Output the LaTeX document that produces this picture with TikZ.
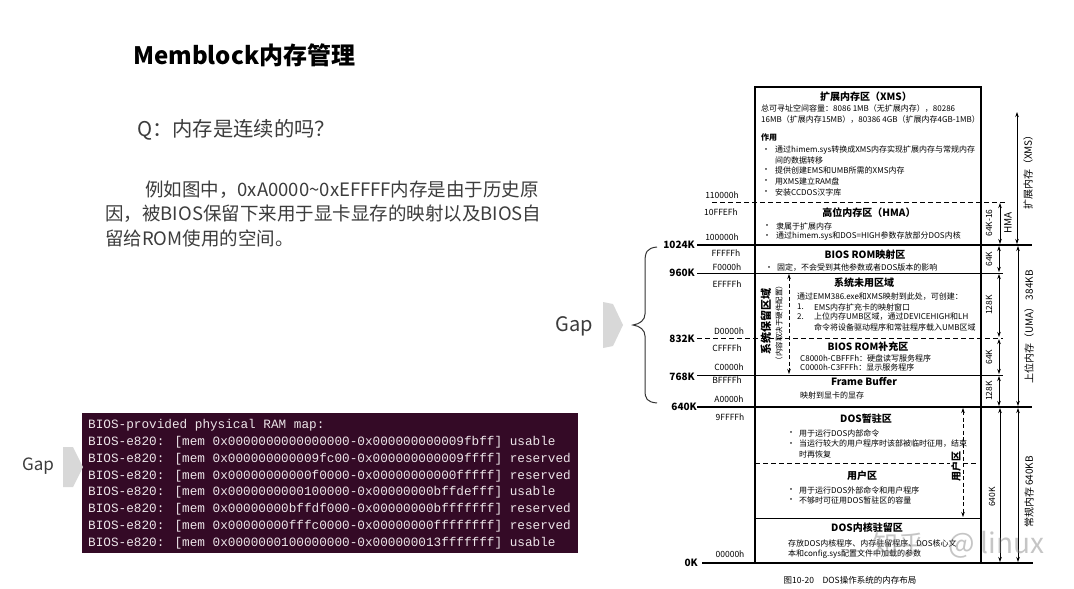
\documentclass[tikz,border=0pt]{standalone}
\usepackage{fontspec}
\setmainfont{Noto Sans CJK SC}
\newfontfamily\monof{Liberation Mono}
\usetikzlibrary{arrows.meta}
\definecolor{termbg}{RGB}{52,10,38}
\definecolor{termfg}{RGB}{236,228,232}
\definecolor{gapgray}{RGB}{216,216,216}
\definecolor{txtgray}{RGB}{60,60,60}
\tikzset{
  para/.style={anchor=west, inner sep=0, font=\fontsize{18.5}{20}\selectfont, text=txtgray},
  term/.style={anchor=west, inner sep=0, font=\monof\fontsize{12.7}{14}\selectfont, text=termfg},
  klbl/.style={anchor=east, inner sep=0, font=\fontsize{10}{12}\selectfont\bfseries},
  hexl/.style={inner sep=0, font=\fontsize{8.5}{10}\selectfont},
  ttl/.style={inner sep=0, font=\fontsize{10}{12}\selectfont\bfseries},
  txt/.style={anchor=west, inner sep=0, font=\fontsize{8}{10}\selectfont},
  dimlbl/.style={rotate=90, inner sep=0, font=\fontsize{8.5}{10}\selectfont},
  dimbig/.style={rotate=90, inner sep=0, font=\fontsize{10}{12}\selectfont},
  thinln/.style={line width=0.9pt},
  thickln/.style={line width=2.4pt},
  boxln/.style={line width=1.6pt},
  dashln/.style={line width=0.9pt, dash pattern=on 5pt off 3pt},
  dimarr/.style={line width=0.8pt, {Stealth[length=5pt,width=3.5pt]}-{Stealth[length=5pt,width=3.5pt]}},
  gaptxt/.style={inner sep=0, text=txtgray},
  wmark/.style={anchor=west, inner sep=0, text=gray, opacity=0.45},
}
\begin{document}
\begin{tikzpicture}[x=1pt,y=-1pt]
\useasboundingbox (0,0) rectangle (1074,589);
\fill[white] (0,0) rectangle (1074,589);

% ---- left text ----
\node[anchor=west, inner sep=0, font=\fontsize{24}{27}\selectfont\bfseries] (title) at (133,55) {Memblock内存管理};
\node[anchor=west, inner sep=0, font=\fontsize{20.3}{24}\selectfont, text=txtgray] (q) at (137,130) {Q：内存是连续的吗？};
\node[para] (p1) at (145,190) {例如图中，0xA0000\textasciitilde0xEFFFF内存是由于历史原};
\node[para] (p2) at (105,214) {因，被BIOS保留下来用于显卡显存的映射以及BIOS自};
\node[para] (p3) at (105,238) {留给ROM使用的空间。};

% ---- terminal ----
\fill[termbg] (82,413) rectangle (578,553);
\node[term] (t0) at (88,425) {BIOS-provided physical RAM map:};
\node[term] (t1) at (88,442) {BIOS-e820: [mem 0x0000000000000000-0x000000000009fbff] usable};
\node[term] (t2) at (88,459) {BIOS-e820: [mem 0x000000000009fc00-0x000000000009ffff] reserved};
\node[term] (t3) at (88,476) {BIOS-e820: [mem 0x00000000000f0000-0x00000000000fffff] reserved};
\node[term] (t4) at (88,492) {BIOS-e820: [mem 0x0000000000100000-0x00000000bffdefff] usable};
\node[term] (t5) at (88,509) {BIOS-e820: [mem 0x00000000bffdf000-0x00000000bfffffff] reserved};
\node[term] (t6) at (88,526) {BIOS-e820: [mem 0x00000000fffc0000-0x00000000ffffffff] reserved};
\node[term] (t7) at (88,543) {BIOS-e820: [mem 0x0000000100000000-0x000000013fffffff] usable};

% ---- Gap markers ----
\node[gaptxt, font=\fontsize{17}{20}\selectfont] (gap2) at (38,466) {Gap};
\fill[gapgray] (63,447) -- (73,447) -- (83,467) -- (73,487) -- (63,487) -- cycle;
\node[gaptxt, font=\fontsize{20}{24}\selectfont] (gap1) at (574,326) {Gap};
\fill[gapgray] (603,302) -- (613,304) -- (623,325) -- (613,346) -- (603,348) -- cycle;
\draw[line width=1pt, black!80] (657,247) .. controls (647,248) and (645,252) .. (645,262)
  -- (645,314) .. controls (645,320) and (640,324) .. (633,325)
  .. controls (640,326) and (645,330) .. (645,336)
  -- (645,390) .. controls (645,399) and (647,402) .. (657,403);

% ---- memory map horizontal lines ----
\draw[dashln] (712,202) -- (1007,202);
\draw[thinln] (697,273) -- (1003,273);
\draw[dashln] (697,338) -- (1003,338);
\draw[thinln] (697,375) -- (1003,375);
\draw[dashln] (755,463) -- (978,463);
\draw[thinln] (755,518) -- (981,518);
% box
\draw[boxln] (755,563) -- (755,87) -- (981,87) -- (981,563);
\draw[thickln] (697,245) -- (1032,245);
\draw[thickln] (697,407) -- (1032,407);
\draw[thickln] (702,563) -- (1033,563);

% ---- K labels ----
\node[klbl] (k1024) at (695,245) {1024K};
\node[klbl] (k960) at (695,273) {960K};
\node[klbl] (k832) at (695,339) {832K};
\node[klbl] (k768) at (695,377) {768K};
\node[klbl] (k640) at (697,407) {640K};
\node[klbl] (k0) at (698,563) {0K};

% ---- hex labels ----
\node[hexl] (h110) at (722,195) {110000h};
\node[hexl] (h10f) at (721,212) {10FFEFh};
\node[hexl] (h100) at (722,237) {100000h};
\node[hexl] (hfff) at (726,253) {FFFFFh};
\node[hexl] (hf00) at (727,267) {F0000h};
\node[hexl] (heff) at (727,284) {EFFFFh};
\node[hexl] (hd00) at (729,331) {D0000h};
\node[hexl] (hcff) at (727,348) {CFFFFh};
\node[hexl] (hc00) at (729,367) {C0000h};
\node[hexl] (hbff) at (727,380) {BFFFFh};
\node[hexl] (ha00) at (729,399) {A0000h};
\node[hexl] (h9ff) at (730,417) {9FFFFh};
\node[hexl] (h000) at (730,554) {00000h};

% ---- XMS ----
\node[ttl] (xms) at (866,97) {扩展内存区（XMS）};
\node[txt] (x1) at (761,109) {总可寻址空间容量：8086 1MB（无扩展内存），80286};
\node[txt] (x2) at (761,120) {16MB（扩展内存15MB），80386 4GB（扩展内存4GB-1MB）};
\node[txt, font=\fontsize{8}{10}\selectfont\bfseries] (x3) at (761,137) {作用};
\node[txt] (xb1) at (762,151) {•}; \node[txt] (x4) at (775,150) {通过himem.sys转换成XMS内存实现扩展内存与常规内存};
\node[txt] (x5) at (775,160) {间的数据转移};
\node[txt] (xb2) at (762,171) {•}; \node[txt] (x6) at (775,170) {提供创建EMS和UMB所需的XMS内存};
\node[txt] (xb3) at (762,182) {•}; \node[txt] (x7) at (775,181) {用XMS建立RAM盘};
\node[txt] (xb4) at (762,193) {•}; \node[txt] (x8) at (775,192) {安装CCDOS汉字库};

% ---- HMA ----
\node[ttl] (hma) at (869,213) {高位内存区（HMA）};
\node[txt] (hb1) at (763,227) {•}; \node[txt] (h1) at (776,226) {隶属于扩展内存};
\node[txt] (hb2) at (763,237) {•}; \node[txt] (h2) at (776,236) {通过himem.sys和DOS=HIGH参数存放部分DOS内核};

% ---- BIOS ROM ----
\node[ttl] (brom) at (865,255) {BIOS ROM映射区};
\node[txt] (bb1) at (765,269) {•}; \node[txt] (b1) at (777,268) {固定，不会受到其他参数或者DOS版本的影响};

% ---- unused ----
\node[ttl] (unused) at (864,283) {系统未用区域};
\node[txt] (u1) at (797,297) {通过EMM386.exe和XMS映射到此处，可创建：};
\node[txt] (u2n) at (797,307) {1.}; \node[txt] (u2) at (814,307) {EMS内存扩充卡的映射窗口};
\node[txt] (u3n) at (797,317) {2.}; \node[txt] (u3) at (814,317) {上位内存UMB区域，通过DEVICEHIGH和LH};
\node[txt] (u4) at (814,327) {命令将设备驱动程序和常驻程序载入UMB区域};

% ---- BIOS ROM ext ----
\node[ttl] (bext) at (868,347) {BIOS ROM补充区};
\node[txt] (e1) at (800,358) {C8000h-CBFFFh：硬盘读写服务程序};
\node[txt] (e2) at (800,367) {C0000h-C3FFFh：显示服务程序};

% ---- Frame buffer ----
\node[ttl] (fb) at (864,382) {Frame Buffer};
\node[txt] (f1) at (800,395) {映射到显卡的显存};

% reserved arrow
\draw[dimarr, dash pattern=on 4pt off 2.5pt] (789,274) -- (789,374);
\node[rotate=90, inner sep=0, font=\fontsize{11}{12}\selectfont\bfseries] (sysres) at (766,321) {系统保留区域};
\node[rotate=90, inner sep=0, font=\fontsize{7.5}{9}\selectfont] (sysres2) at (779,323) {（内容取决于硬件配置）};

% ---- DOS transient ----
\node[ttl] (dtr) at (866,419) {DOS暂驻区};
\node[txt] (db1) at (787,434) {•}; \node[txt] (d1) at (799,433) {用于运行DOS内部命令};
\node[txt] (db2) at (787,445) {•}; \node[txt] (d2) at (799,444) {当运行较大的用户程序时该部被临时征用，结束};
\node[txt] (d3) at (799,454) {时再恢复};

% ---- user ----
\node[ttl] (usr) at (862,476) {用户区};
\node[txt] (ub1) at (787,491) {•}; \node[txt] (us1) at (799,490) {用于运行DOS外部命令和用户程序};
\node[txt] (ub2) at (787,501) {•}; \node[txt] (us2) at (799,500) {不够时可征用DOS暂驻区的容量};
\draw[dimarr, dash pattern=on 4pt off 2.5pt] (963,408) -- (963,517);
\node[rotate=90, inner sep=1pt, fill=white, font=\fontsize{10}{12}\selectfont\bfseries] (usrv) at (956,466) {用户区};

% ---- kernel ----
\node[ttl] (kern) at (867,528) {DOS内核驻留区};
\node[txt] (kn1) at (788,543) {存放DOS内核程序、内存驻留程序、DOS核心文};
\node[txt] (kn2) at (788,554) {本和config.sys配置文件中加载的参数};

% ---- dimension arrows ----
\draw[dimarr] (1000,203) -- (1000,244);
\draw[dimarr] (1017,112) -- (1017,244);
\node[dimlbl] (d6416) at (989,223) {64K-16};
\node[dimbig] (dhma) at (1008,223) {HMA};
\node[dimbig] (dxms) at (1028,170) {扩展内存（XMS）};

\draw[dimarr] (999,246) -- (999,272);
\draw[dimarr] (999,274) -- (999,337);
\draw[dimarr] (999,339) -- (999,374);
\draw[dimarr] (999,376) -- (999,406);
\draw[dimarr] (1018,246) -- (1018,406);
\node[dimlbl] (d64a) at (989,259) {64K};
\node[dimlbl] (d128a) at (989,305) {128K};
\node[dimlbl] (d64b) at (989,357) {64K};
\node[dimlbl] (d128b) at (989,391) {128K};
\node[dimbig] (duma) at (1029,327) {上位内存（UMA） 384KB};

\draw[dimarr] (1000,408) -- (1000,562);
\draw[dimarr] (1018,408) -- (1018,562);
\node[dimlbl] (d640) at (992,497) {640K};
\node[dimbig] (dconv) at (1029,492) {常规内存 640KB};

% caption
\node[inner sep=0, font=\fontsize{8.5}{10}\selectfont] (cap) at (850,580) {图10-20\quad DOS操作系统的内存布局};

% watermark
\node[wmark, font=\fontsize{26}{30}\selectfont] (wm1) at (872,545) {知乎};
\node[wmark, font=\fontsize{28}{30}\selectfont] (wm2) at (948,545) {@ linux};
\end{tikzpicture}
\end{document}
